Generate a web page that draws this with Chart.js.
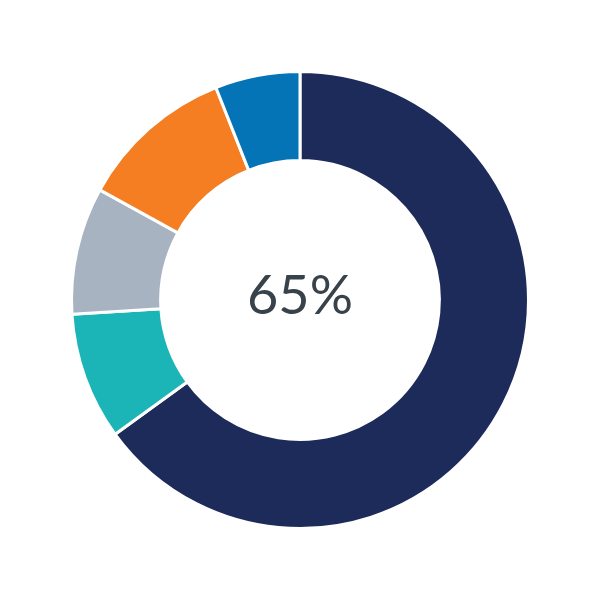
<!DOCTYPE html>
<html>
<head>
<meta charset="utf-8">
<script src="https://cdn.jsdelivr.net/npm/chart.js@4/dist/chart.umd.min.js"></script>
<style>
  html, body { margin: 0; padding: 0; background: #fff; }
  #wrap { width: 600px; height: 600px; }
</style>
</head>
<body>
<div id="wrap"><canvas id="donut"></canvas></div>
<script>
const labels = ["Main", "Teal", "Grey", "Orange", "Blue"];
const values = [65, 9, 9, 11, 6];
const colors = ["#1c2b5a", "#1cb5b7", "#a8b3c2", "#f47e21", "#0474b7"];
const centerLabel = "65%";

const centerText = {
    id: "centerText",
    afterDraw(chart) {
        const c = chart.ctx;
        const meta = chart.getDatasetMeta(0).data[0];
        c.save();
        c.font = "400 54px Lato";
        c.fillStyle = "#37424b";
        c.textAlign = "center";
        c.textBaseline = "middle";
        c.fillText(centerLabel, meta.x, meta.y - 3);
        c.restore();
    }
};

const ctx = document.getElementById("donut").getContext("2d");
new Chart(ctx, {
    type: "doughnut",
    data: {
        labels: labels,
        datasets: [{
            data: values,
            backgroundColor: colors,
            borderColor: "#ffffff",
            borderWidth: 3
        }]
    },
    options: {
        responsive: true,
        maintainAspectRatio: false,
        animation: false,
        cutout: "61%",
        layout: { padding: 70 },
        plugins: {
            legend: { display: false },
            tooltip: { enabled: false }
        }
    },
    plugins: [centerText]
});
</script>
</body>
</html>
